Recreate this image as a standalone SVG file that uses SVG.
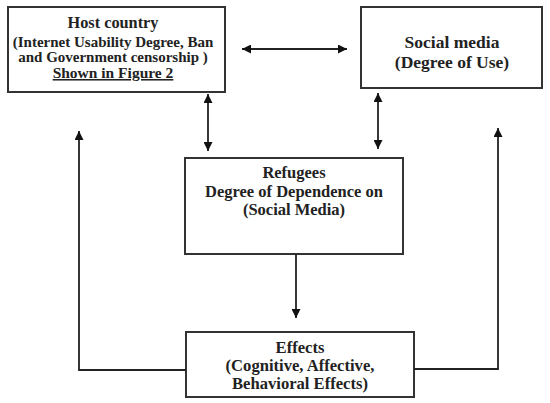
<svg xmlns="http://www.w3.org/2000/svg" width="550" height="403" viewBox="0 0 550 403">
<defs>
<marker id="ah" viewBox="0 0 10 10" refX="10" refY="5" markerWidth="5" markerHeight="5" orient="auto-start-reverse" markerUnits="strokeWidth">
<path d="M0,0 L10,5 L0,10 z" fill="#111"/>
</marker>
</defs>
<style>
.box{fill:#fff;stroke:#333;stroke-width:2}
.t{font-family:'Liberation Serif','Times New Roman',Times,serif;font-weight:bold;fill:#222;text-anchor:middle}
.con{fill:none;stroke:#222;stroke-width:1.8}
</style>
<rect width="550" height="403" fill="#fff"/>
<g id="host">
<rect class="box" x="8" y="7" width="217" height="85"/>
<text class="t" x="113" y="28" font-size="16.3">Host country</text>
<text class="t" x="113" y="47" font-size="15">(Internet Usability Degree, Ban</text>
<text class="t" x="113" y="62" font-size="15">and Government censorship )</text>
<text class="t" x="113" y="78" font-size="15.5" text-decoration="underline">Shown in Figure 2</text>
</g>
<g id="social">
<rect class="box" x="361" y="7" width="181" height="81"/>
<text class="t" x="452" y="48" font-size="17.5">Social media</text>
<text class="t" x="452" y="68" font-size="17.5">(Degree of Use)</text>
</g>
<g id="refugees">
<rect class="box" x="185" y="158" width="218" height="96"/>
<text class="t" x="294" y="178" font-size="16.5">Refugees</text>
<text class="t" x="294" y="197" font-size="16.5">Degree of Dependence on</text>
<text class="t" x="294" y="215" font-size="16.5">(Social Media)</text>
</g>
<g id="effects">
<rect class="box" x="186" y="332" width="228" height="65"/>
<text class="t" x="300" y="353" font-size="16.6">Effects</text>
<text class="t" x="300" y="371" font-size="16.6">(Cognitive, Affective,</text>
<text class="t" x="300" y="389" font-size="16.6">Behavioral Effects)</text>
</g>
<g id="connectors">
<line class="con" x1="242" y1="49" x2="347" y2="49" marker-start="url(#ah)" marker-end="url(#ah)"/>
<line class="con" x1="208" y1="94" x2="208" y2="151" marker-start="url(#ah)" marker-end="url(#ah)"/>
<line class="con" x1="378" y1="93" x2="378" y2="149" marker-start="url(#ah)" marker-end="url(#ah)"/>
<line class="con" x1="296" y1="254" x2="296" y2="318" marker-end="url(#ah)"/>
<polyline class="con" points="186,370 79,370 79,131" marker-end="url(#ah)"/>
<polyline class="con" points="414,369 498,369 498,128" marker-end="url(#ah)"/>
</g>
</svg>
